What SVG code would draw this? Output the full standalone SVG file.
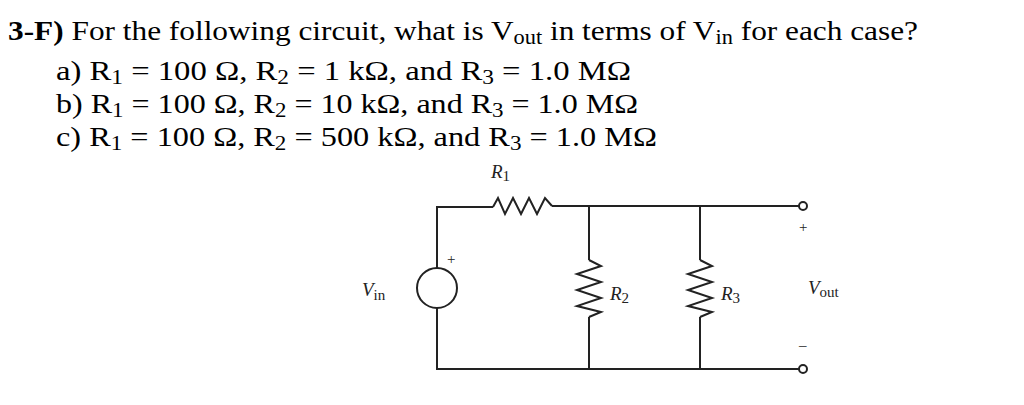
<svg xmlns="http://www.w3.org/2000/svg" width="1024" height="405" viewBox="0 0 1024 405">
<style>
.t{font-family:"Liberation Serif",serif;font-size:28px;fill:#000}
.l{font-family:"Liberation Serif",serif;font-style:italic;font-size:19px;fill:#222}
.s{font-family:"Liberation Serif",serif;font-size:15px;fill:#222}
.w{fill:none;stroke:#222;stroke-width:2}
</style>
<rect width="1024" height="405" fill="#fff"/>
<g id="question">
<text class="t" x="8" y="40" textLength="910" lengthAdjust="spacingAndGlyphs"><tspan font-weight="bold">3-F)</tspan> For the following circuit, what is V<tspan font-size="20" dy="4">out</tspan><tspan dy="-4"> in terms of V</tspan><tspan font-size="20" dy="4">in</tspan><tspan dy="-4"> for each case?</tspan></text>
<text class="t" x="56" y="80" textLength="575" lengthAdjust="spacingAndGlyphs">a)   R<tspan font-size="20" dy="4">1</tspan><tspan dy="-4"> = 100 Ω, R</tspan><tspan font-size="20" dy="4">2</tspan><tspan dy="-4"> = 1 kΩ, and R</tspan><tspan font-size="20" dy="4">3</tspan><tspan dy="-4"> = 1.0 MΩ</tspan></text>
<text class="t" x="56" y="113" textLength="582" lengthAdjust="spacingAndGlyphs">b)   R<tspan font-size="20" dy="4">1</tspan><tspan dy="-4"> = 100 Ω, R</tspan><tspan font-size="20" dy="4">2</tspan><tspan dy="-4"> = 10 kΩ, and R</tspan><tspan font-size="20" dy="4">3</tspan><tspan dy="-4"> = 1.0 MΩ</tspan></text>
<text class="t" x="56" y="146" textLength="601" lengthAdjust="spacingAndGlyphs">c)   R<tspan font-size="20" dy="4">1</tspan><tspan dy="-4"> = 100 Ω, R</tspan><tspan font-size="20" dy="4">2</tspan><tspan dy="-4"> = 500 kΩ, and R</tspan><tspan font-size="20" dy="4">3</tspan><tspan dy="-4"> = 1.0 MΩ</tspan></text>
</g>
<g id="wires">
<path class="w" d="M437 268 V207 H493 M552 206 H799 M437 308 V369 H799 M589 206 V260 M589 317 V369 M700 206 V260 M700 317 V369"/>
</g>
<g id="vin">
<circle class="w" cx="437" cy="288" r="20"/>
<text class="s" x="447" y="264">+</text>
<text class="l" x="362" y="296">V<tspan class="s" font-style="normal" dy="4">in</tspan></text>
</g>
<g id="r1">
<path class="w" d="M493 207 L498 198 L505 214 L513 198 L521 214 L529 198 L537 214 L545 198 L552 206"/>
<text class="l" x="491" y="178">R<tspan class="s" font-style="normal" dy="3">1</tspan></text>
</g>
<g id="r2">
<path class="w" d="M589 260 L601 266 L577 274 L601 282 L577 290 L601 298 L577 306 L601 312 L589 317"/>
<text class="l" x="610" y="300">R<tspan class="s" font-style="normal" dy="3">2</tspan></text>
</g>
<g id="r3">
<path class="w" d="M700 260 L712 266 L688 274 L712 282 L688 290 L712 298 L688 306 L712 312 L700 317"/>
<text class="l" x="721" y="300">R<tspan class="s" font-style="normal" dy="3">3</tspan></text>
</g>
<g id="vout">
<circle class="w" cx="803" cy="206" r="4"/>
<circle class="w" cx="803" cy="369" r="4"/>
<text class="s" x="799" y="232">+</text>
<text class="s" x="799" y="350">–</text>
<text class="l" x="808" y="294">V<tspan class="s" font-style="normal" dy="3">out</tspan></text>
</g>
</svg>
